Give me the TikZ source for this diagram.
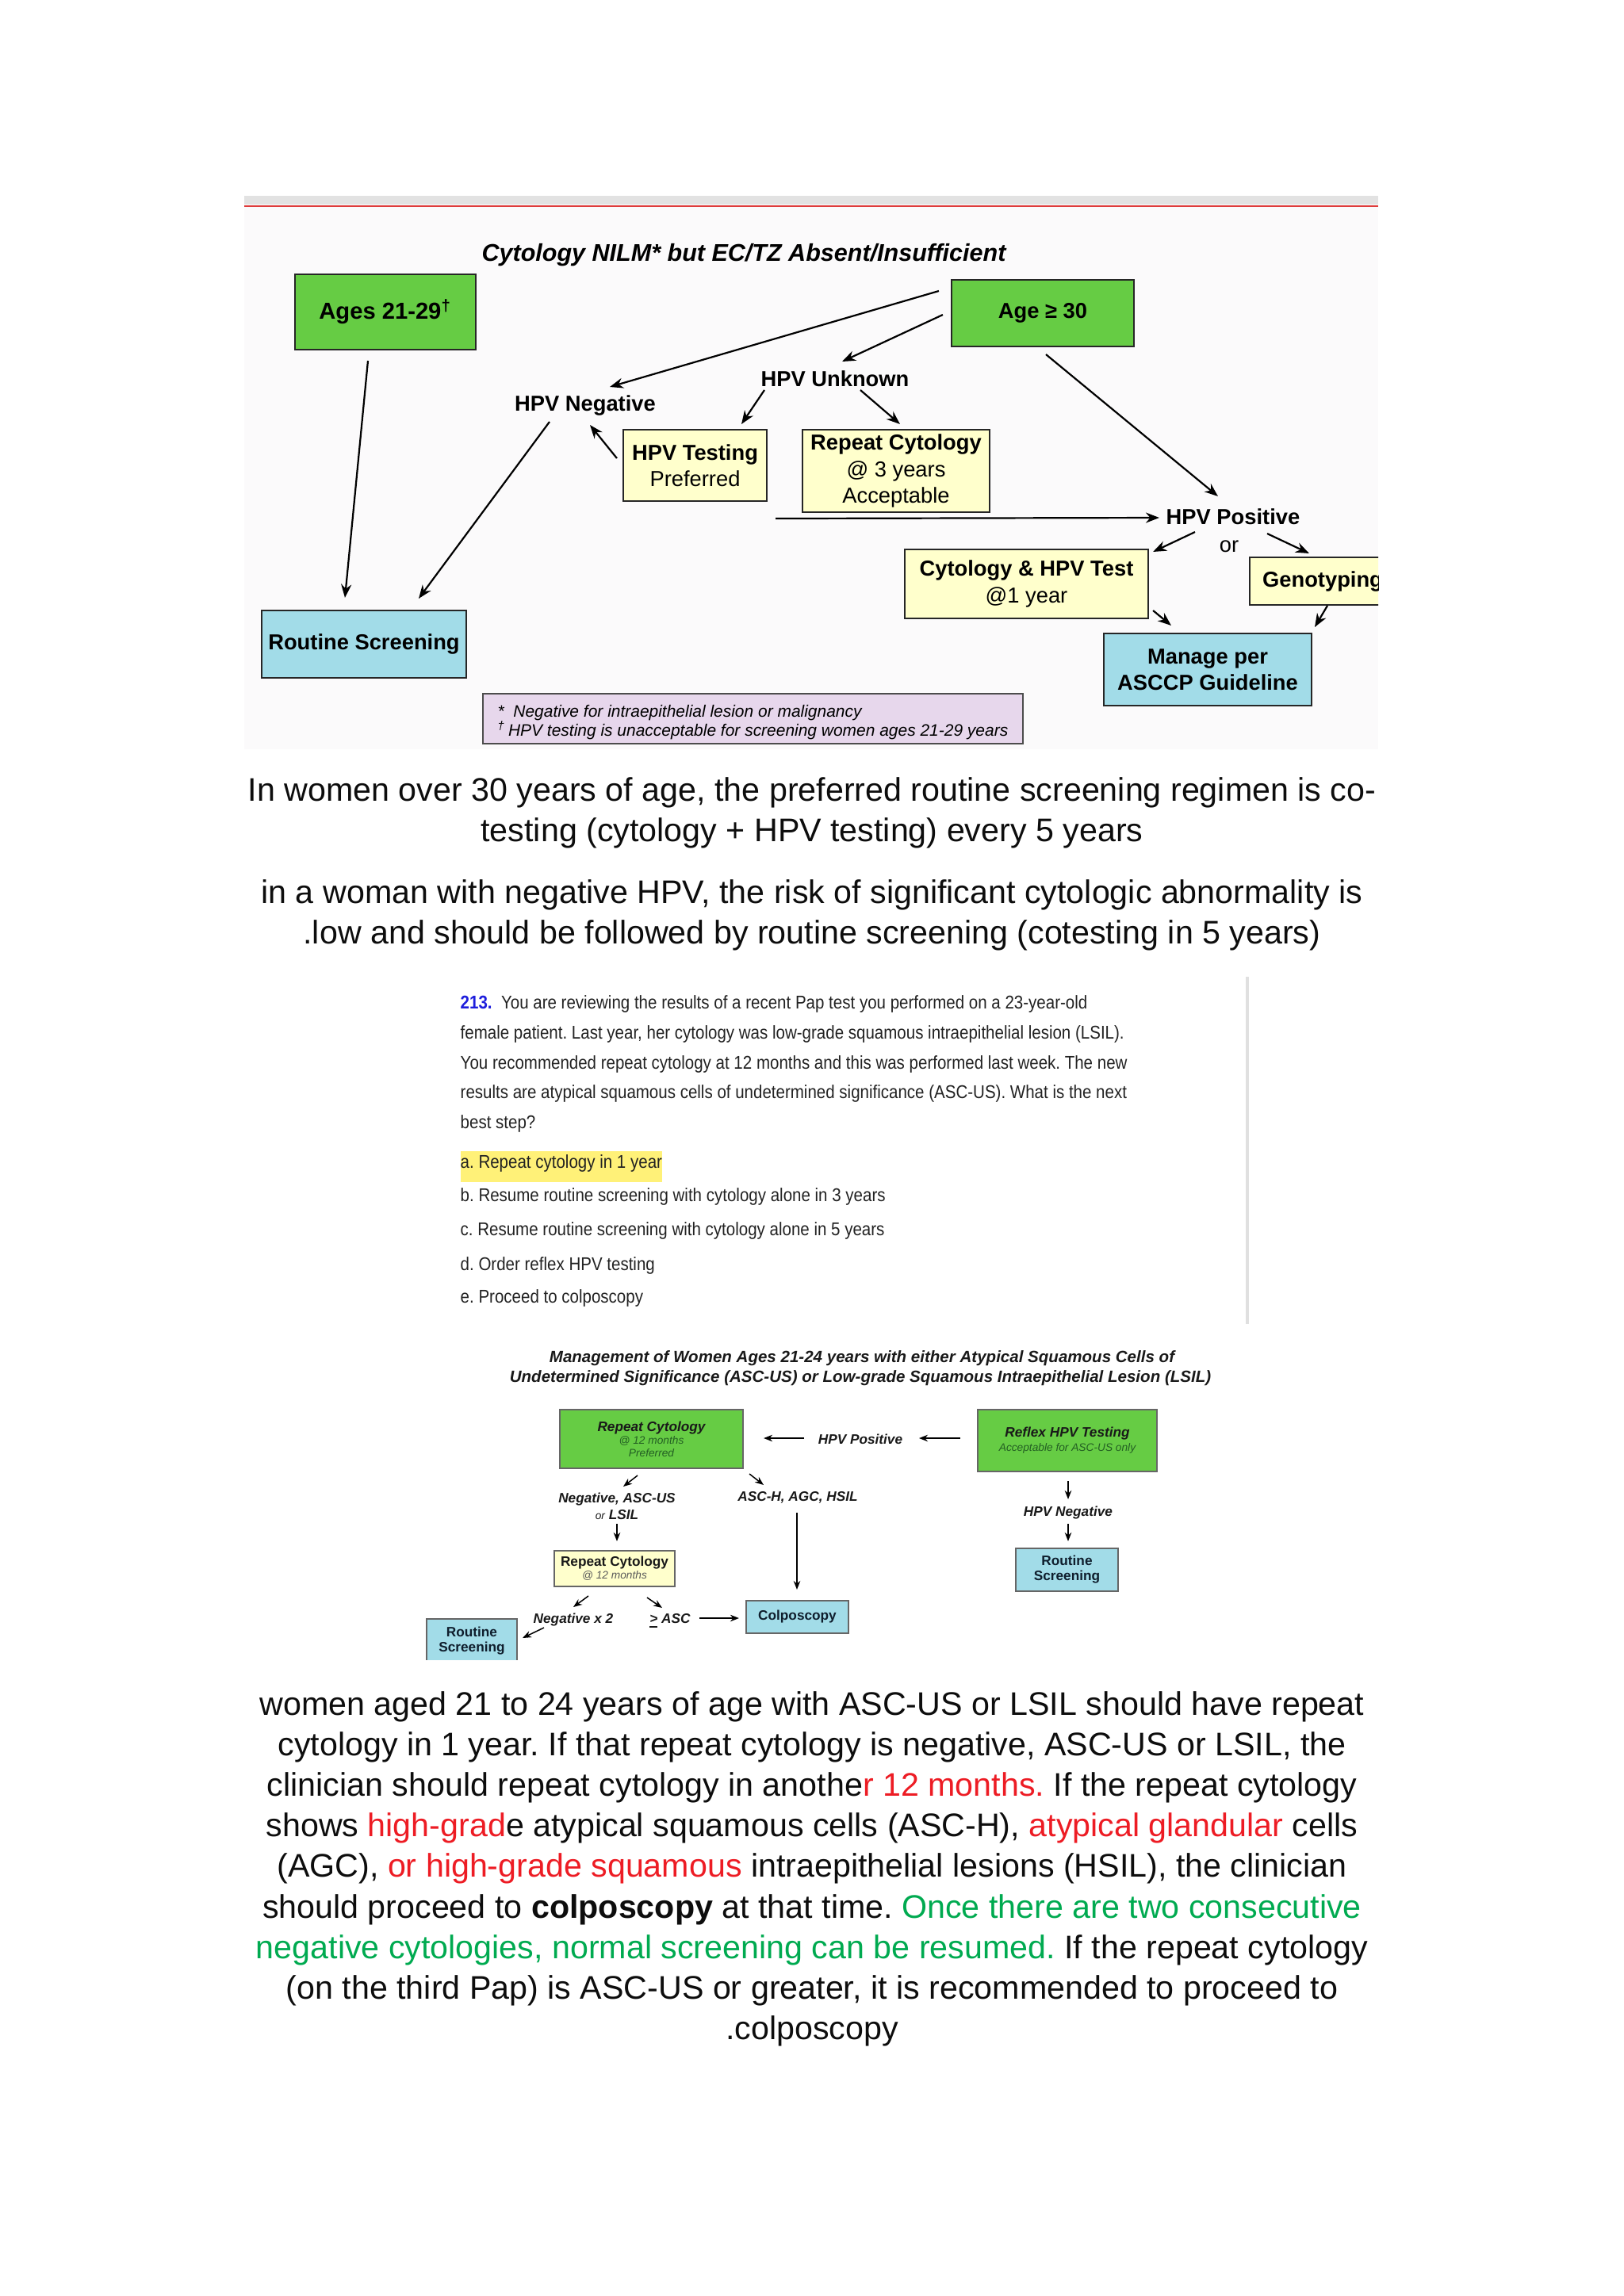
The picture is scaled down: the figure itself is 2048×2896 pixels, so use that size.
\documentclass[tikz,border=0pt]{standalone}
\usepackage{fontspec}
\setmainfont{Liberation Sans}
\newfontfamily\qfont[FakeStretch=0.88]{Liberation Sans}
\usetikzlibrary{arrows.meta}
\frenchspacing

\definecolor{boxgreen}{RGB}{102,204,68}
\definecolor{boxyellow}{RGB}{255,255,204}
\definecolor{boxblue}{RGB}{162,220,232}
\definecolor{footlilac}{RGB}{231,215,236}
\definecolor{bargray}{RGB}{226,226,226}
\definecolor{barred}{RGB}{222,60,60}
\definecolor{panelbg}{RGB}{251,250,251}
\definecolor{hlyellow}{RGB}{255,241,120}
\definecolor{qblue}{RGB}{30,30,220}
\definecolor{qgray}{RGB}{34,34,34}
\definecolor{txtred}{RGB}{237,28,36}
\definecolor{txtgreen}{RGB}{0,170,80}
\definecolor{subgreen}{RGB}{35,95,35}
\definecolor{navytxt}{RGB}{15,30,45}

\newcommand\paratext{\fontsize{11.72}{14.5}\selectfont}
\newcommand\flowtext{\fontsize{7.77}{9.53}\selectfont}
\newcommand\agetext{\fontsize{8.3}{10}\selectfont}
\newcommand\ttltext{\fontsize{8.68}{10.4}\selectfont}
\newcommand\foottext{\fontsize{5.96}{6.83}\selectfont}
\newcommand\qtext{\qfont\fontsize{6.63}{8}\selectfont}
\newcommand\mgmtttl{\fontsize{5.84}{7}\selectfont}
\newcommand\mgmtlbl{\fontsize{4.9}{5.4}\selectfont}
\newcommand\mgmtsub{\fontsize{3.9}{4.55}\selectfont}

\begin{document}
\begin{tikzpicture}[x=0.01cm, y=-0.01cm,
    lbl/.style={inner sep=0pt, anchor=base, font=\flowtext\bfseries},
    flowbox/.style={draw=black!85, line width=0.02cm, inner sep=0pt, align=center, font=\flowtext},
    arr/.style={-{Stealth[length=0.17cm, width=0.13cm]}, line width=0.022cm},
    para/.style={inner sep=0pt, anchor=base, font=\paratext, text=black!95},
    qline/.style={inner sep=0pt, anchor=base west, font=\qtext, text=qgray},
    mbox/.style={draw=black!60, line width=0.02cm, inner sep=0pt, align=center},
    mlbl/.style={inner sep=0pt, anchor=base, font=\mgmtlbl\bfseries\itshape, text=black!90},
    sarr/.style={-{Stealth[length=0.11cm, width=0.085cm]}, line width=0.015cm}]

    \useasboundingbox (0,0) rectangle (2048,2896);

    % --- Barra superiore ---
    \fill[bargray] (308,247) rectangle (1738,258);
    \fill[panelbg] (308,260) rectangle (1738,945);
    \draw[barred, line width=0.02cm] (308,259.5) -- (1738,259.5);

    % --- Schema 1: titolo ---
    \node[lbl, font=\ttltext\bfseries\itshape] (ttl) at (938,329) {Cytology NILM* but EC/TZ Absent/Insufficient};

    % --- Schema 1: blocchi ---
    \node[flowbox, fill=boxgreen, minimum width=2.28cm, minimum height=0.95cm, font=\agetext\bfseries] (ages) at (486,393.5) {Ages 21-29\textsuperscript{†}};
    \node[flowbox, fill=boxgreen, minimum width=2.30cm, minimum height=0.84cm, font=\flowtext\bfseries] (age30) at (1315,395) {Age ≥ 30};
    \node[flowbox, fill=boxyellow, minimum width=1.81cm, minimum height=0.90cm] (hpvtest) at (876.5,587) {\textbf{HPV Testing}\\Preferred};
    \node[flowbox, fill=boxyellow, minimum width=2.36cm, minimum height=1.04cm] (repcyt) at (1130,594) {\textbf{Repeat Cytology}\\@ 3 years\\Acceptable};
    \node[flowbox, fill=boxyellow, minimum width=3.07cm, minimum height=0.87cm] (cythpv) at (1294.5,736.5) {\textbf{Cytology \& HPV Test}\\@1 year};
    \begin{scope}
        \clip (1560,690) rectangle (1738,780);
        \node[flowbox, fill=boxyellow, minimum width=1.84cm, minimum height=0.60cm, font=\flowtext\bfseries] (geno) at (1668,733) {Genotyping};
    \end{scope}
    \node[flowbox, fill=boxblue, minimum width=2.58cm, minimum height=0.85cm, font=\flowtext\bfseries] (routine1) at (459,812.5) {Routine Screening};
    \node[flowbox, fill=boxblue, minimum width=2.62cm, minimum height=0.91cm, font=\flowtext\bfseries] (manage) at (1523,844.5) {Manage per\\ASCCP Guideline};
    \node[flowbox, draw=black!70, fill=footlilac, minimum width=6.81cm, minimum height=0.63cm, align=left, font=\foottext\itshape] (foot) at (949.5,906.5)
        {\rule{0pt}{0.25cm}*\ \ Negative for intraepithelial lesion or malignancy\\\textsuperscript{†}\,HPV testing is unacceptable for screening women ages 21-29 years};

    % --- Schema 1: etichette ---
    \node[lbl] (hpvunk) at (1053,487) {HPV Unknown};
    \node[lbl] (hpvneg) at (738,518) {HPV Negative};
    \node[lbl] (hpvpos) at (1555,661) {HPV Positive};
    \node[lbl, font=\flowtext] (ortxt) at (1550,696) {or};

    % --- Schema 1: frecce ---
    \draw[arr] ([shift={(-15,-28)}]age30.west) -- ([shift={(31,-30)}]hpvneg.base);
    \draw[arr] ([shift={(-10,2)}]age30.west) -- ([shift={(9,-31)}]hpvunk.base);
    \draw[arr] ([shift={(4,9)}]age30.south) -- ([shift={(-19,-35)}]hpvpos.base);
    \draw[arr] ([shift={(-89,5)}]hpvunk.base) -- ([shift={(58.5,-6)}]hpvtest.north);
    \draw[arr] ([shift={(32,5)}]hpvunk.base) -- ([shift={(5,-6)}]repcyt.north);
    \draw[arr] ([shift={(-7,-9)}]hpvtest.west) -- ([shift={(6,18)}]hpvneg.base);
    \draw[arr] ([shift={(-45,14)}]hpvneg.base) -- ([shift={(69,-14)}]routine1.north);
    \draw[arr] ([shift={(-22,13)}]ages.south) -- ([shift={(-24,-15)}]routine1.north);
    % orizzontale verso HPV Positive
    \draw[arr] ([shift={(10,21)}]hpvtest.south east) -- ([shift={(-93,-8)}]hpvpos.base);
    \draw[arr] ([shift={(-48,10)}]hpvpos.base) -- ([shift={(5,4)}]cythpv.north east);
    \draw[arr] ([shift={(43,12)}]hpvpos.base) -- ([shift={(76,-4)}]geno.north west);
    \draw[arr] ([shift={(5,-11)}]cythpv.south east) -- ([shift={(-46,-9)}]manage.north);
    \draw[arr] ([shift={(99,0)}]geno.south west) -- ([shift={(135,-7)}]manage.north);

    % --- Testo 1 ---
    \foreach \nm/\y/\txt in {
        p1/1010/{In women over 30 years of age, the preferred routine screening regimen is co-},
        p2/1061/{testing (cytology + HPV testing) every 5 years},
        p3/1139/{in a woman with negative HPV, the risk of significant cytologic abnormality is},
        p4/1190/{.low and should be followed by routine screening (cotesting in 5 years)}
    } {
        \node[para] (\nm) at (1024,\y) {\txt};
    }

    % --- Domanda ---
    \draw[black!12, line width=0.04cm] (1573,1232) -- (1573,1670);
    \foreach \nm/\y/\txt in {
        q1/1272/{\textcolor{qblue}{\bfseries 213.}\ \ You are reviewing the results of a recent Pap test you performed on a 23-year-old},
        q2/1310/{female patient. Last year, her cytology was low-grade squamous intraepithelial lesion (LSIL).},
        q3/1348/{You recommended repeat cytology at 12 months and this was performed last week. The new},
        q4/1385/{results are atypical squamous cells of undetermined significance (ASC-US). What is the next},
        q5/1423/{best step?},
        ob/1515/{b. Resume routine screening with cytology alone in 3 years},
        oc/1558/{c. Resume routine screening with cytology alone in 5 years},
        od/1602/{d. Order reflex HPV testing},
        oe/1643/{e. Proceed to colposcopy}
    } {
        \node[qline] (\nm) at (580,\y) {\txt};
    }
    \node[qline, fill=hlyellow, text height=0.21cm, text depth=0.18cm] (oa) at (580,1473) {a. Repeat cytology in 1 year};

    % --- Schema 2: titolo ---
    \node[mlbl, font=\mgmtttl\bfseries\itshape] (mt1) at (1087,1718) {Management of Women Ages 21-24 years with either Atypical Squamous Cells of};
    \node[mlbl, font=\mgmtttl\bfseries\itshape] (mt2) at (1085,1743) {Undetermined Significance (ASC-US) or Low-grade Squamous Intraepithelial Lesion (LSIL)};

    % --- Schema 2: blocchi ---
    \node[mbox, fill=boxgreen, minimum width=2.31cm, minimum height=0.74cm, font=\mgmtsub\itshape, text=subgreen] (rep1) at (821.5,1815)
        {\textcolor{black!90}{\mgmtlbl\bfseries Repeat Cytology}\\@ 12 months\\Preferred};
    \node[mbox, fill=boxgreen, minimum width=2.26cm, minimum height=0.78cm, font={\fontsize{3.9}{5.12}\selectfont\itshape}, text=subgreen] (reflex) at (1346,1817)
        {\textcolor{black!90}{\mgmtlbl\bfseries Reflex HPV Testing}\\Acceptable for ASC-US only};
    \node[mbox, fill=boxyellow, minimum width=1.52cm, minimum height=0.45cm, font=\mgmtsub\itshape, text=black!65] (rep2) at (775,1978.5)
        {\textcolor{black!90}{\mgmtlbl\bfseries\upshape Repeat Cytology}\\@ 12 months};
    \node[mbox, fill=boxblue, minimum width=1.29cm, minimum height=0.41cm, font=\mgmtlbl\bfseries, text=navytxt] (colpo) at (1005.5,2039.5) {Colposcopy};
    \node[mbox, fill=boxblue, minimum width=1.29cm, minimum height=0.54cm, font=\mgmtlbl\bfseries, text=navytxt] (routine3) at (1345.5,1980) {Routine\\Screening};
    \begin{scope}
        \clip (520,2030) rectangle (670,2093);
        \node[mbox, fill=boxblue, minimum width=1.14cm, minimum height=0.56cm, font=\mgmtlbl\bfseries, text=navytxt] (routine2) at (595,2070) {Routine\\Screening};
    \end{scope}

    % --- Schema 2: etichette ---
    \node[mlbl] (hpvpos2) at (1085,1821) {HPV Positive};
    \node[mlbl] (hpvneg2) at (1347,1912) {HPV Negative};
    \node[mlbl] (negasc) at (778,1895) {Negative, ASC-US};
    \node[mlbl] (negor) at (778,1916) {{\mgmtsub\mdseries or} LSIL};
    \node[mlbl] (aschl) at (1006,1893) {ASC-H, AGC, HSIL};
    \node[mlbl] (neg2) at (723,2047) {Negative x 2};
    \node[mlbl] (geasc) at (845,2047) {\underline{>} ASC};

    % --- Schema 2: frecce ---
    \draw[sarr] ([shift={(-21,-3)}]reflex.west) -- ([shift={(74,-7)}]hpvpos2.base);
    \draw[sarr] ([shift={(-71,-7)}]hpvpos2.base) -- ([shift={(25,-1)}]rep1.east);
    \draw[sarr] ([shift={(-17.5,8)}]rep1.south) -- ([shift={(8,-20)}]negasc.base);
    \draw[sarr] ([shift={(7,6)}]rep1.south east) -- ([shift={(-43,-20)}]aschl.base);
    \draw[sarr] ([shift={(0,6)}]negor.base) -- ([shift={(3,-11)}]rep2.north);
    \draw[sarr] ([shift={(-1,15)}]aschl.base) -- ([shift={(-0.5,-13)}]colpo.north);
    \draw[sarr] ([shift={(-33,11)}]rep2.south) -- ([shift={(0,-20)}]neg2.base);
    \draw[sarr] ([shift={(41,13)}]rep2.south) -- ([shift={(-10,-19)}]geasc.base);
    \draw[sarr] ([shift={(37,-6)}]geasc.base) -- ([shift={(-8,1.5)}]colpo.west);
    \draw[sarr] ([shift={(-37,6)}]neg2.base) -- ([shift={(6,-4)}]routine2.east);
    \draw[sarr] ([shift={(1,11)}]reflex.south) -- ([shift={(0,-21)}]hpvneg2.base);
    \draw[sarr] ([shift={(0,10)}]hpvneg2.base) -- ([shift={(1.5,-8)}]routine3.north);

    % --- Testo 2 ---
    \foreach \nm/\y/\txt in {
        w1/2163/{women aged 21 to 24 years of age with ASC-US or LSIL should have repeat},
        w2/2214/{cytology in 1 year. If that repeat cytology is negative, ASC-US or LSIL, the},
        w3/2265/{clinician should repeat cytology in anothe\textcolor{txtred}{r 12 months.} If the repeat cytology},
        w4/2316/{shows \textcolor{txtred}{high-grad}e atypical squamous cells (ASC-H), \textcolor{txtred}{atypical glandular} cells},
        w5/2367/{(AGC), \textcolor{txtred}{or high-grade squamous} intraepithelial lesions (HSIL), the clinician},
        w6/2419/{should proceed to \textbf{colposcopy} at that time. \textcolor{txtgreen}{Once there are two consecutive}},
        w7/2470/{\textcolor{txtgreen}{negative cytologies, normal screening can be resumed.} If the repeat cytology},
        w8/2521/{(on the third Pap) is ASC-US or greater, it is recommended to proceed to},
        w9/2572/{.colposcopy}
    } {
        \node[para] (\nm) at (1024,\y) {\txt};
    }

\end{tikzpicture}
\end{document}
